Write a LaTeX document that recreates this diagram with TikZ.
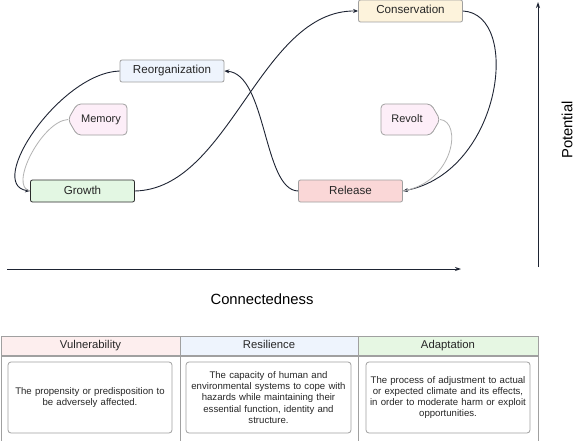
\documentclass[tikz,border=0pt]{standalone}
\usepackage{fontspec}
\setmainfont{Liberation Sans}
\usetikzlibrary{arrows.meta}
\definecolor{txt}{HTML}{262626}
\definecolor{bord}{HTML}{A0A0A0}
\definecolor{dark}{HTML}{2B2B2B}
\definecolor{fblue}{HTML}{EEF4FD}
\definecolor{fgreen}{HTML}{E3F7E3}
\definecolor{fyellow}{HTML}{FDF3DC}
\definecolor{fred}{HTML}{FAD7D7}
\definecolor{fpink}{HTML}{FDEEF8}
\definecolor{hpink}{HTML}{FDEEEE}
\definecolor{hblue}{HTML}{EEF4FD}
\definecolor{hgreen}{HTML}{E6F7E3}
\definecolor{curve}{HTML}{1E2433}
\tikzset{
  phase/.style={draw=bord, line width=0.8pt, rounded corners=2pt, minimum width=104pt, minimum height=22pt, inner sep=0pt, text=txt, font=\fontsize{11.6}{13}\selectfont, text height=8.4pt, text depth=2.4pt},
  tagtext/.style={inner sep=0pt, text=txt, font=\fontsize{11}{12}\selectfont, text height=8pt, text depth=2.3pt},
  tagshape/.style={draw=bord, line width=0.8pt, rounded corners=4pt, fill=fpink},
  flow/.style={draw=curve, line width=0.9pt, -{Stealth[length=5pt,width=4pt]}},
  soft/.style={draw=bord!80, line width=0.8pt},
  axis/.style={draw=curve, line width=1pt, -{Stealth[length=6pt,width=4pt]}},
  head/.style={draw=bord, line width=0.8pt, text=txt, font=\fontsize{11.3}{12}\selectfont, text height=8.2pt, text depth=2.4pt},
  defbox/.style={draw=bord, line width=0.8pt, rounded corners=3pt, text=txt, align=center, font=\fontsize{9.6}{11.2}\selectfont, inner sep=0pt, text width=162pt},
}
\begin{document}
\begin{tikzpicture}[x=1pt,y=-1pt]
\useasboundingbox[fill=white] (0,0) rectangle (575,441);
% tag shapes
\coordinate (memtip) at (68,119.5);
\coordinate (revtip) at (440,119.5);
\draw[tagshape] (memtip) -- (77,104) -- (127,104) -- (127,135) -- (77,135) -- cycle;
\draw[tagshape] (revtip) -- (431,104) -- (381,104) -- (381,135) -- (431,135) -- cycle;
\node[tagtext] (mem) at (101,119.5) {Memory};
\node[tagtext] (rev) at (407,119.5) {Revolt};
% phase boxes
\node[phase, fill=fblue] (reorg) at (172,71) {Reorganization};
\node[phase, fill=fgreen, draw=dark] (growth) at (82.5,191) {Growth};
\node[phase, fill=fyellow] (cons) at (410.5,11) {Conservation};
\node[phase, fill=fred] (rel) at (350.5,191) {Release};
% curves
\draw[flow] (reorg.west) .. controls (60,73) and (-15,185) .. (growth.west);
\draw[soft] (memtip) .. controls (42,121) and (8,187) .. (growth.west);
\draw[flow] (growth.east) .. controls (230,189) and (260,10) .. (cons.west);
\draw[flow] (cons.east) .. controls (522,14) and (502,172) .. (rel.east);
\draw[soft] (revtip) .. controls (462,121) and (455,182) .. (rel.east);
\draw[flow] (rel.west) .. controls (263,190) and (267,74) .. (reorg.east);
% axes
\coordinate (vy0) at (538,267);
\coordinate (vy1) at (538,2);
\coordinate (hx0) at (7,269);
\coordinate (hx1) at (461,269);
\draw[axis] (vy0) -- (vy1);
\draw[axis] (hx0) -- (hx1);
\node[text=black, font=\fontsize{14.8}{16}\selectfont] (conn) at (262,299) {Connectedness};
\node[text=black, font=\fontsize{14.8}{16}\selectfont, rotate=90] (pot) at (567,130) {Potential};
% table
\node[head, fill=hpink, minimum width=179pt, minimum height=20pt, inner sep=0pt] (h1) at (90.5,346) {Vulnerability};
\node[head, fill=hblue, minimum width=178pt, minimum height=20pt, inner sep=0pt] (h2) at (269,346) {Resilience};
\node[head, fill=hgreen, minimum width=180pt, minimum height=20pt, inner sep=0pt] (h3) at (448,346) {Adaptation};
\draw[bord, line width=0.8pt] (1,356) -- (1,441);
\draw[bord, line width=0.8pt] (180,356) -- (180,441);
\draw[bord, line width=0.8pt] (358,356) -- (358,441);
\draw[bord, line width=0.8pt] (538,356) -- (538,441);
\draw[bord, line width=1.2pt] (1,356) -- (538,356);
\node[defbox, minimum width=164pt, minimum height=71pt] (b1) at (90,397.5) {The propensity or predisposition to\\be adversely affected.};
\node[defbox, minimum width=165pt, minimum height=71pt] (b2) at (268.5,397.5) {The capacity of human and\\environmental systems to cope with\\hazards while maintaining their\\essential function, identity and\\structure.};
\node[defbox, minimum width=164pt, minimum height=71pt] (b3) at (448,397.5) {The process of adjustment to actual\\or expected climate and its effects,\\in order to moderate harm or exploit\\opportunities.};
\end{tikzpicture}
\end{document}
